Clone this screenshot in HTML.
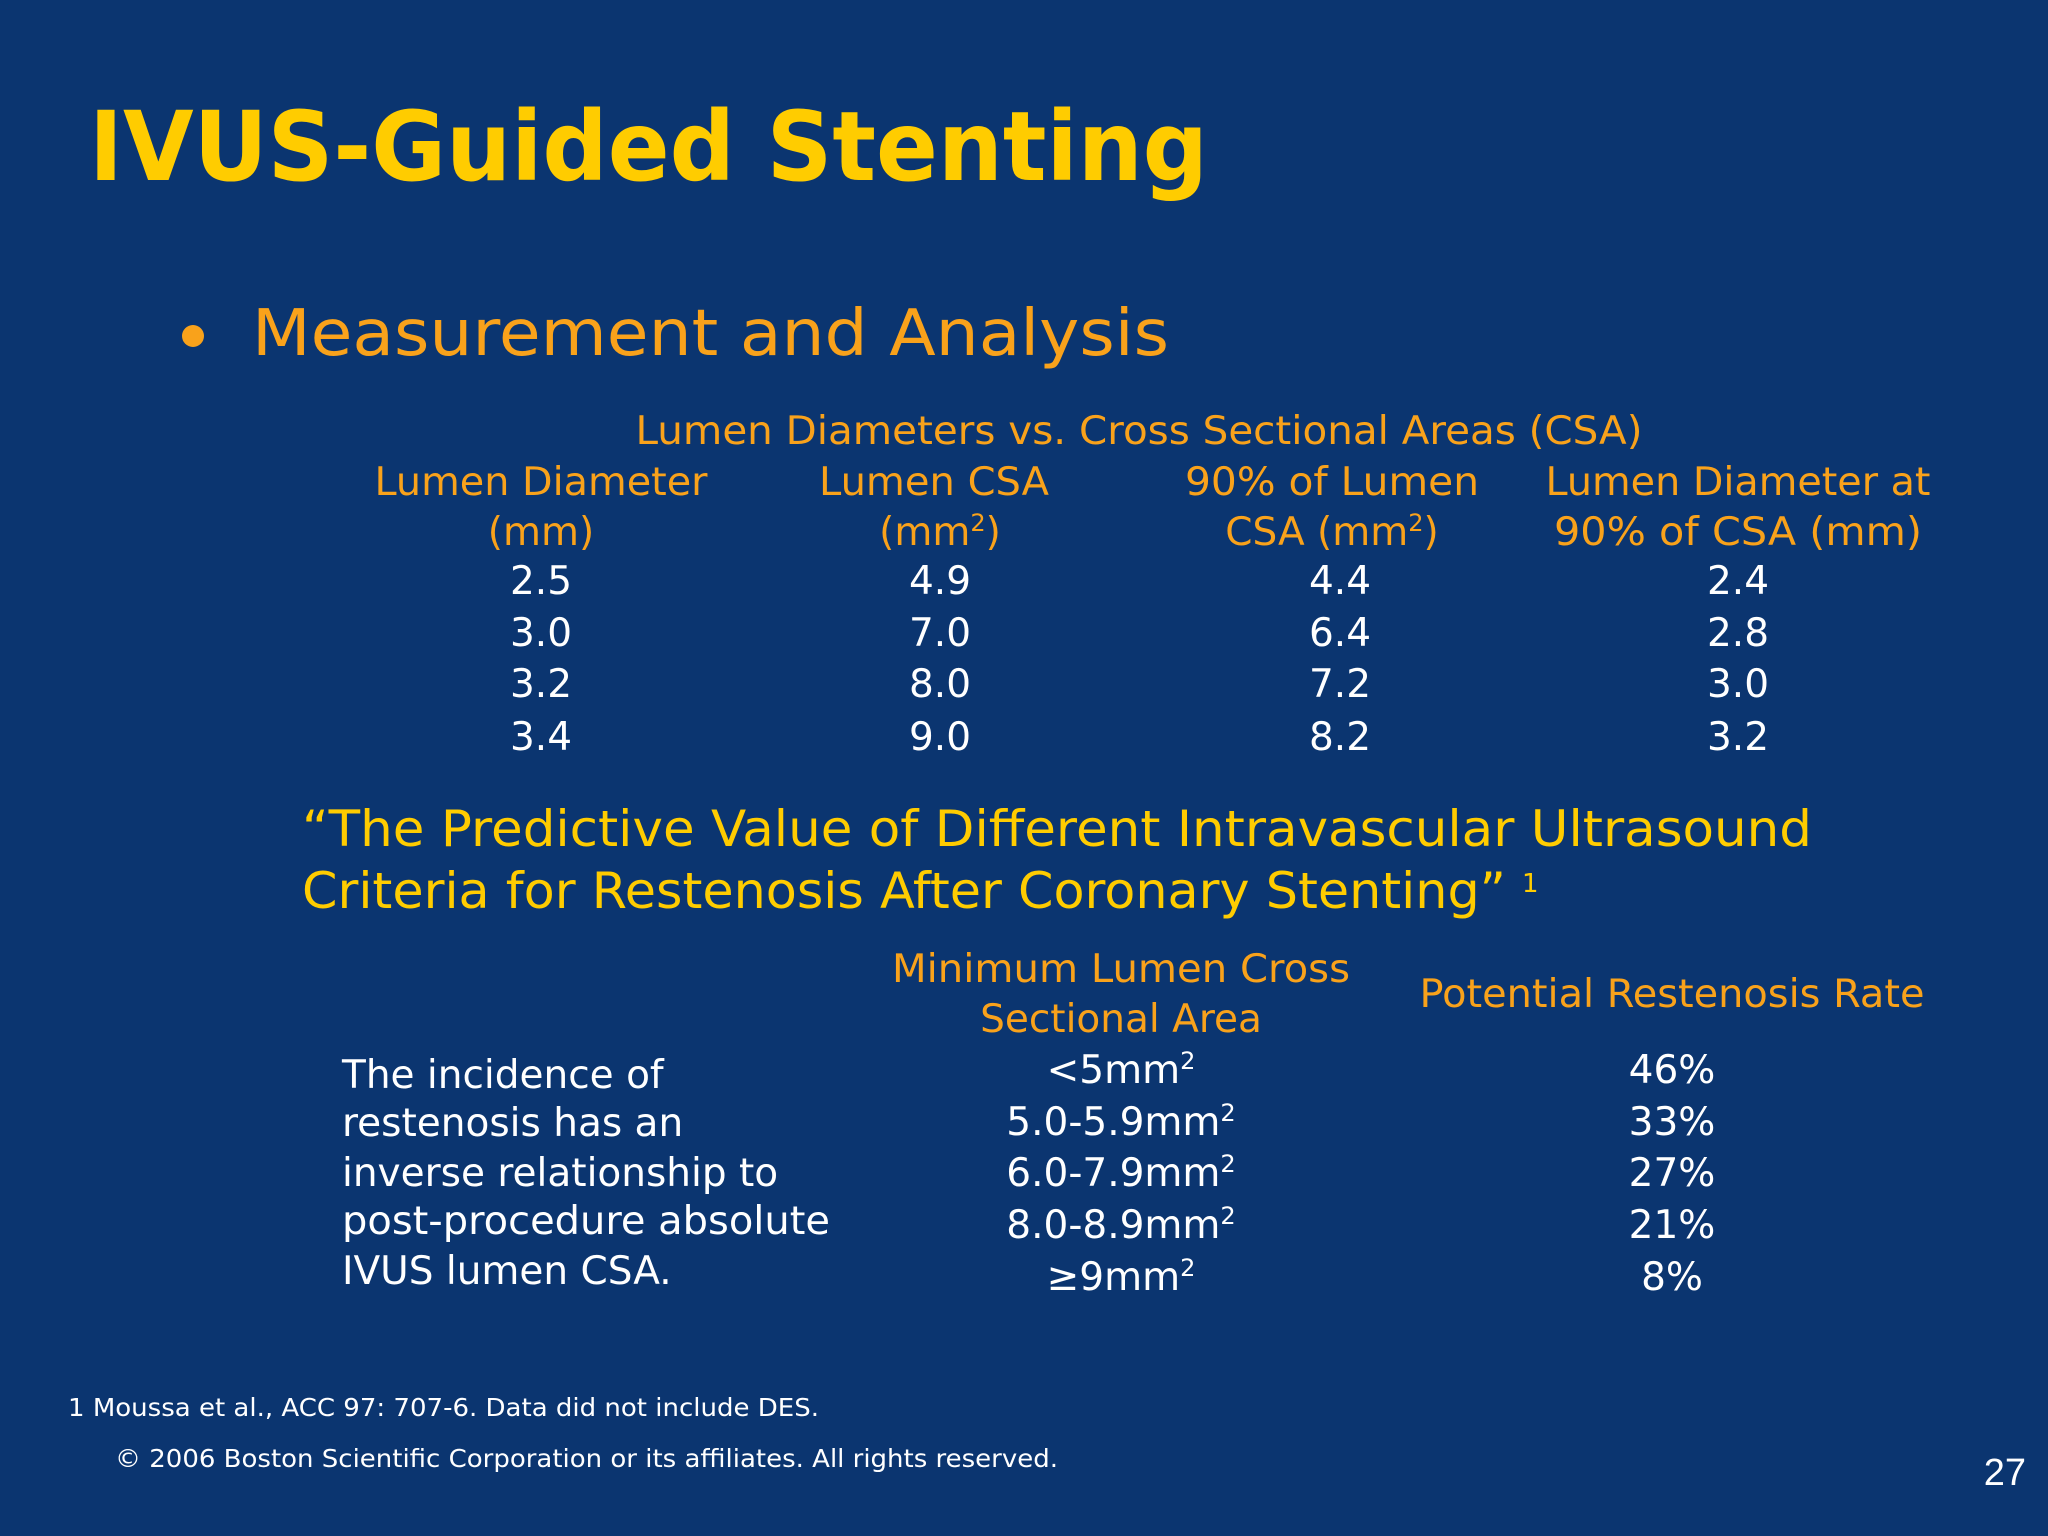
<!DOCTYPE html>
<html><head><meta charset="utf-8"><style>
html,body{margin:0;padding:0;background:#0b3570;}
svg{display:block;font-family:"DejaVu Sans","Liberation Sans",sans-serif;}
</style></head><body>
<svg width="2048" height="1536" viewBox="0 0 2048 1536" xmlns="http://www.w3.org/2000/svg">
<rect width="2048" height="1536" fill="#0b3570"/>
<text x="89" y="180" font-size="96" font-weight="bold" fill="#ffcc00" textLength="1119" lengthAdjust="spacingAndGlyphs">IVUS-Guided Stenting</text>
<circle cx="193" cy="336" r="11" fill="#f9a21b"/>
<text x="252" y="355" font-size="64" fill="#f9a21b" textLength="917" lengthAdjust="spacingAndGlyphs">Measurement and Analysis</text>

<g fill="#f9a21b" font-size="39" text-anchor="middle">
<text x="1139" y="444" textLength="1007" lengthAdjust="spacingAndGlyphs">Lumen Diameters vs. Cross Sectional Areas (CSA)</text>
<text x="541" y="495" textLength="333" lengthAdjust="spacingAndGlyphs">Lumen Diameter</text>
<text x="541" y="545">(mm)</text>
<text x="934" y="495" textLength="230" lengthAdjust="spacingAndGlyphs">Lumen CSA</text>
<text x="940" y="545">(mm<tspan font-size="24" dy="-14">2</tspan><tspan dy="14">)</tspan></text>
<text x="1332" y="495" textLength="294" lengthAdjust="spacingAndGlyphs">90% of Lumen</text>
<text x="1332" y="545">CSA (mm<tspan font-size="24" dy="-14">2</tspan><tspan dy="14">)</tspan></text>
<text x="1738" y="495" textLength="385" lengthAdjust="spacingAndGlyphs">Lumen Diameter at</text>
<text x="1738" y="545" textLength="368" lengthAdjust="spacingAndGlyphs">90% of CSA (mm)</text>
</g>
<g fill="#ffffff" font-size="39" text-anchor="middle">
<text x="541" y="594">2.5</text><text x="940" y="594">4.9</text><text x="1340" y="594">4.4</text><text x="1738" y="594">2.4</text>
<text x="541" y="646">3.0</text><text x="940" y="646">7.0</text><text x="1340" y="646">6.4</text><text x="1738" y="646">2.8</text>
<text x="541" y="697">3.2</text><text x="940" y="697">8.0</text><text x="1340" y="697">7.2</text><text x="1738" y="697">3.0</text>
<text x="541" y="750">3.4</text><text x="940" y="750">9.0</text><text x="1340" y="750">8.2</text><text x="1738" y="750">3.2</text>
</g>

<text x="302" y="846" font-size="50" fill="#ffcc00" textLength="1510" lengthAdjust="spacingAndGlyphs">“The Predictive Value of Different Intravascular Ultrasound</text>
<text x="302" y="908" font-size="50" fill="#ffcc00" textLength="1204" lengthAdjust="spacingAndGlyphs">Criteria for Restenosis After Coronary Stenting”</text>
<text x="1522" y="892" font-size="26" fill="#ffcc00">1</text>

<g fill="#f9a21b" font-size="39" text-anchor="middle">
<text x="1121" y="982" textLength="458" lengthAdjust="spacingAndGlyphs">Minimum Lumen Cross</text>
<text x="1121" y="1032">Sectional Area</text>
<text x="1672" y="1007" textLength="505" lengthAdjust="spacingAndGlyphs">Potential Restenosis Rate</text>
</g>
<g fill="#ffffff" font-size="39" text-anchor="middle">
<text x="1121" y="1083">&lt;5mm<tspan font-size="24" dy="-14">2</tspan></text>
<text x="1121" y="1135">5.0-5.9mm<tspan font-size="24" dy="-14">2</tspan></text>
<text x="1121" y="1186">6.0-7.9mm<tspan font-size="24" dy="-14">2</tspan></text>
<text x="1121" y="1238">8.0-8.9mm<tspan font-size="24" dy="-14">2</tspan></text>
<text x="1121" y="1290">≥9mm<tspan font-size="24" dy="-14">2</tspan></text>
<text x="1672" y="1083">46%</text>
<text x="1672" y="1135">33%</text>
<text x="1672" y="1186">27%</text>
<text x="1672" y="1238">21%</text>
<text x="1672" y="1290">8%</text>
</g>
<g fill="#ffffff" font-size="39">
<text x="342" y="1088">The incidence of</text>
<text x="342" y="1136">restenosis has an</text>
<text x="342" y="1186">inverse relationship to</text>
<text x="342" y="1234" textLength="488" lengthAdjust="spacingAndGlyphs">post-procedure absolute</text>
<text x="342" y="1284">IVUS lumen CSA.</text>
</g>
<text x="68" y="1416" font-size="25" fill="#ffffff" textLength="751" lengthAdjust="spacingAndGlyphs">1 Moussa et al., ACC 97: 707-6. Data did not include DES.</text>
<text x="115" y="1467" font-size="25" fill="#ffffff" textLength="943" lengthAdjust="spacingAndGlyphs">© 2006 Boston Scientific Corporation or its affiliates.  All rights reserved.</text>
<text x="2026" y="1485" font-size="38" fill="#ffffff" text-anchor="end" font-family="Liberation Sans, sans-serif">27</text>
</svg>
</body></html>
